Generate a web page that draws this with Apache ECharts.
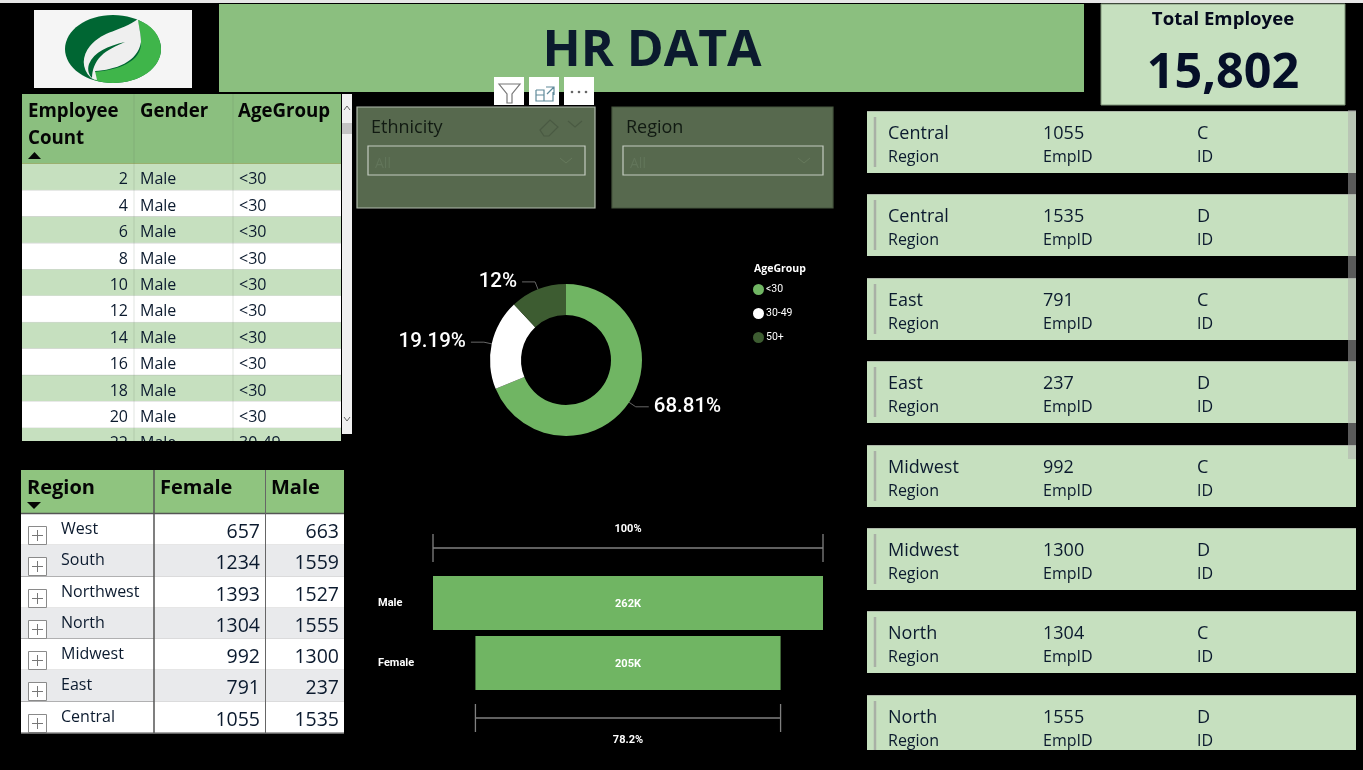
<!DOCTYPE html>
<html>
<head>
<meta charset="utf-8">
<title>HR DATA</title>
<script src="https://cdn.jsdelivr.net/npm/echarts@6/dist/echarts.min.js"></script>
<style>
  html, body { margin: 0; padding: 0; background: #000; overflow: hidden; }
  #chart { width: 1363px; height: 770px; }
</style>
</head>
<body>
<div id="chart"></div>
<script>
// employee table
var empCounts = [2, 4, 6, 8, 10, 12, 14, 16, 18, 20, 22];
var empGenders = ["Male", "Male", "Male", "Male", "Male", "Male", "Male", "Male", "Male", "Male", "Male"];
var empAgeGroups = ["<30", "<30", "<30", "<30", "<30", "<30", "<30", "<30", "<30", "<30", "30-49"];

// region matrix
var regionNames = ["West", "South", "Northwest", "North", "Midwest", "East", "Central"];
var regionFemale = [657, 1234, 1393, 1304, 992, 791, 1055];
var regionMale = [663, 1559, 1527, 1555, 1300, 237, 1535];

// multi row cards
var cardRegions = ["Central", "Central", "East", "East", "Midwest", "Midwest", "North", "North"];
var cardEmpIds = [1055, 1535, 791, 237, 992, 1300, 1304, 1555];
var cardIds = ["C", "D", "C", "D", "C", "D", "C", "D"];

// donut
var ageGroups = ["<30", "30-49", "50+"];
var ageShares = [68.81, 19.19, 12];
var ageColors = ["#70b563", "#ffffff", "#3d5c31"];

// funnel
var funnelNames = ["Male", "Female"];
var funnelValues = [262, 205];
var funnelPercents = ["100%", "78.2%"];

var totalEmployee = "15,802";

var UI_FONT = '"Open Sans"';
var CHART_FONT = 'Roboto';
var INK = "#0b1a2e";
var HEADER_GREEN = "#8bbf7f";
var LIGHT_GREEN = "#c6e0bf";
var SLICER_GREEN = "#57694e";

var gfx = [];
var pathCount = 0;

var rect = function (x, y, w, h, fill, stroke, lineWidth) {
  gfx.push({
    type: "rect", silent: true,
    shape: {x: x, y: y, width: w, height: h},
    style: {fill: fill, stroke: stroke || null, lineWidth: lineWidth || 0}
  });
};
var line = function (x1, y1, x2, y2, color, width) {
  gfx.push({
    type: "line", silent: true,
    shape: {x1: x1, y1: y1, x2: x2, y2: y2},
    style: {stroke: color, lineWidth: width || 1}
  });
};
var text = function (str, x, y, size, color, opts) {
  opts = opts || {};
  gfx.push({
    // open sans sits high in its line box, push it down a little
    type: "text", silent: true, x: x, y: y + size * 0.08 + 0.5,
    style: {
      text: String(str),
      fill: color,
      font: (opts.weight || "normal") + " " + size + "px " + (opts.family || UI_FONT),
      textAlign: opts.align || "left",
      textVerticalAlign: "middle"
    }
  });
};
// the graphic component has no plain path type, so each path is registered as a shape
var path = function (d, fill, stroke, lineWidth) {
  var name = "hrPath" + (pathCount++);
  echarts.graphic.registerShape(name, echarts.graphic.extendPath(d, {}));
  gfx.push({
    type: name, silent: true,
    style: {fill: fill || null, stroke: stroke || null, lineWidth: lineWidth || 0}
  });
};

// top strip, logo, banner, total card
var drawHeader = function () {
  rect(0, 0, 1363, 3, "#e6e6e6");

  rect(34, 10, 158, 78, "#f5f5f5");
  gfx.push({
    type: "ellipse", silent: true,
    shape: {cx: 113, cy: 49, rx: 48, ry: 34},
    style: {fill: "#006633"}
  });
  path("M138 20 C152 25 161 36 161 49 C161 68 140 83 113 83 C107 83 100 82 94 80 L94 72 C118 70 142 62 141 42 C141 34 139 28 138 20 Z", "#3fb54a");
  path("M138 19 C120 32 104 30 90 46 C82 56 81 68 91 78 C93 79 95 80 97 80 L95 71 C115 70 138 62 141 42 C141 34 139 28 138 19 Z", "#efefef");
  path("M125 42 C108 46 94 52 89 64 C87 70 89 75 92 78 C92 70 95 62 101 56 C107 50 116 46 125 42 Z", "#006633");

  rect(219, 4, 865, 88, HEADER_GREEN);
  text("HR DATA", 652, 47, 50, INK, {weight: "bold", align: "center"});

  rect(1101, 4, 244, 101, LIGHT_GREEN, "#7f9478", 1);
  text("Total Employee", 1223, 18, 18.6, "#050a1e", {weight: "bold", align: "center"});
  text(totalEmployee, 1223, 70, 48.5, "#050f28", {weight: "bold", align: "center"});
};

// filter, focus and more icons over the slicer
var drawToolbar = function () {
  rect(494, 77, 30, 28, "#ffffff");
  rect(529, 77, 30, 28, "#ffffff");
  rect(564, 77, 30, 28, "#ffffff");
  path("M499 84 L520 84 L512 94 L512 103 L507 103 L507 94 Z", null, "#777777", 1.2);
  path("M536 90 L536 101 L553 101 L553 92 M536 90 L544 90 L544 101 M536 95 L544 95 M546 87 L554 87 L554 95 M554 87 L547 94", null, "#5f8a9a", 1.2);
  [572, 579, 586].forEach(function (x) {
    gfx.push({
      type: "circle", silent: true,
      shape: {cx: x, cy: 92, r: 1.3},
      style: {fill: "#666666"}
    });
  });
};

var drawSlicer = function (title, x, w, boxW, selected) {
  rect(x, 107, w, 101, SLICER_GREEN, selected ? "#b2bcad" : "#46563e", 1.2);
  text(title, x + 14, 126, 18, "#111a12");
  rect(x + 11, 146, boxW, 29, null, "#c4ccc0", 1.2);
  text("All", x + 18, 162, 14, "#62755a");
  path("M" + (x + boxW - 14) + " 158 L" + (x + boxW - 8) + " 163 L" + (x + boxW - 2) + " 158", null, "#66795c", 1);
  if (selected) {
    path("M" + (x + 183) + " 130 L" + (x + 193) + " 120 L" + (x + 201) + " 127 L" + (x + 192) + " 136 L" + (x + 187) + " 136 Z", null, "#4a5a43", 1.2);
    path("M" + (x + 211) + " 121 L" + (x + 218) + " 127 L" + (x + 225) + " 121", null, "#4a5a43", 1.2);
  }
};

// employee table, upper left
var drawEmployeeTable = function () {
  var rowH = 26.4;
  var top = 164;
  rect(22, 94, 319, 70, HEADER_GREEN);
  line(22, 164, 341, 164, "#a8a060", 1);
  text("Employee", 28, 109.5, 18.7, "#050505", {weight: "bold"});
  text("Count", 28, 136.5, 18.7, "#050505", {weight: "bold"});
  path("M28 159 L41 159 L34.5 152 Z", "#050505");
  text("Gender", 140, 109.5, 18.7, "#050505", {weight: "bold"});
  text("AgeGroup", 238, 109.5, 18.7, "#050505", {weight: "bold"});

  empCounts.forEach(function (count, i) {
    var y = top + i * rowH;
    rect(22, y, 319, rowH, i % 2 === 0 ? LIGHT_GREEN : "#ffffff");
    line(22, y + rowH, 341, y + rowH, "#dcdedc", 1);
    text(count, 128, y + 14, 16, INK, {align: "right"});
    text(empGenders[i], 140, y + 14, 16, INK);
    text(empAgeGroups[i], 239, y + 14, 16, INK);
  });
  line(134, 94, 134, 441, "rgba(90,110,90,0.18)", 1);
  line(233, 94, 233, 441, "rgba(90,110,90,0.18)", 1);

  // the table is cut off below this row
  rect(0, 441, 352, 29, "#000000");

  rect(342, 94, 10, 340, "#f0f0f0");
  rect(342, 123, 10, 11, "#c4c4c4");
  path("M344 110 L347 106 L350 110", null, "#666666", 1);
  path("M344 417 L347 421 L350 417", null, "#666666", 1);
};

// region matrix, lower left
var drawRegionTable = function () {
  var rowTops = [514, 545, 577, 608, 639, 670, 702, 733];
  rect(21, 470, 323, 43, "#8fc47f");
  text("Region", 27, 486, 20, "#050505", {weight: "bold"});
  path("M27 502 L41 502 L34 509 Z", "#050505");
  text("Female", 160, 486, 20, "#050505", {weight: "bold"});
  text("Male", 271, 486, 20, "#050505", {weight: "bold"});

  regionNames.forEach(function (name, i) {
    var y = rowTops[i];
    var h = rowTops[i + 1] - y;
    rect(21, y, 323, h, i % 2 === 0 ? "#ffffff" : "#e9eaec");
    line(21, y + h, 154, y + h, i % 2 === 0 ? "#cccccc" : "#777777", 1);
    line(154, y + h, 344, y + h, "#cccccc", 1);
    text(name, 61, y + 13.5, 16, INK);
    text(regionFemale[i], 260, y + 16, 19.5, INK, {align: "right"});
    text(regionMale[i], 339, y + 16, 19.5, INK, {align: "right"});
    rect(28.5, y + 12.5, 18, 18, "#ffffff", "#8a8a8a", 1);
    line(32, y + 21.5, 43, y + 21.5, "#777777", 1);
    line(37.5, y + 16, 37.5, y + 27, "#777777", 1);
  });
  line(21, 513.5, 344, 513.5, "#555555", 1.5);
  line(154, 470, 154, 733, "#555555", 1.5);
  line(265.5, 470, 265.5, 733, "#666666", 1);
  line(21, 733, 344, 733, "#666666", 1);
};

// multi row cards, right side
var drawCards = function () {
  var cardH = 62;
  cardRegions.forEach(function (region, i) {
    var y = Math.round(111 + i * 83.4);
    var h = Math.min(cardH, 750 - y);
    rect(867, y, 489, h, LIGHT_GREEN);
    line(867, y + 0.5, 1356, y + 0.5, "#aeb8aa", 1);
    line(875, y + 6, 875, Math.min(y + 56, 750), "#a9b0a6", 2.5);
    text(region, 888, y + 21, 18, INK);
    text(cardEmpIds[i], 1043, y + 21, 18, INK);
    text(cardIds[i], 1197, y + 21, 18, INK);
    text("Region", 888, y + 45, 16, INK);
    text("EmpID", 1043, y + 45, 16, INK);
    text("ID", 1197, y + 45, 16, INK);
  });
  // last card is cut off by the visual's edge
  rect(860, 750, 503, 20, "#000000");
  rect(1348, 110, 8, 349, "rgba(173,173,173,0.52)");
};

drawHeader();
drawEmployeeTable();
drawRegionTable();
drawSlicer("Ethnicity", 357, 238, 217, true);
drawSlicer("Region", 612, 221, 200, false);
drawToolbar();
drawCards();

text("AgeGroup", 754, 268, 10.5, "#ffffff", {weight: "bold"});

var funnelMax = Math.max.apply(null, funnelValues);
var funnelOffsets = funnelValues.map(function (v) { return (funnelMax - v) / 2; });

var chart = echarts.init(document.getElementById("chart"));
chart.setOption({
  backgroundColor: "#000000",
  animation: false,
  graphic: {elements: gfx},
  legend: {
    orient: "vertical",
    left: 748,
    top: 279,
    icon: "circle",
    itemWidth: 11,
    itemHeight: 11,
    itemGap: 13,
    selectedMode: false,
    data: ageGroups,
    textStyle: {color: "#ffffff", fontFamily: CHART_FONT, fontSize: 10.5, padding: [0, 0, 0, -3]}
  },
  grid: {left: 433, top: 573, width: 390, height: 120},
  xAxis: {type: "value", min: 0, max: funnelMax, show: false},
  yAxis: {
    type: "category",
    inverse: true,
    data: funnelNames,
    axisLine: {show: false},
    axisTick: {show: false},
    axisLabel: {
      align: "left",
      margin: 55,
      padding: [2, 0, 0, 0],
      color: "#ffffff",
      fontFamily: CHART_FONT,
      fontWeight: "bold",
      fontSize: 11
    }
  },
  series: [
    {
      type: "pie",
      center: [566, 360],
      radius: [45, 76],
      startAngle: 90,
      clockwise: true,
      label: {
        color: "#ffffff",
        fontFamily: CHART_FONT,
        fontWeight: 500,
        fontSize: 20.5,
        formatter: function (p) { return p.value + "%"; }
      },
      labelLine: {length: 8, length2: 13, lineStyle: {color: "#666666", width: 1}},
      data: ageGroups.map(function (name, i) {
        return {name: name, value: ageShares[i], itemStyle: {color: ageColors[i]}};
      })
    },
    {
      type: "bar",
      stack: "funnel",
      barWidth: 54,
      silent: true,
      itemStyle: {color: "transparent"},
      data: funnelOffsets
    },
    {
      type: "bar",
      stack: "funnel",
      barWidth: 54,
      itemStyle: {color: "#70b563"},
      label: {
        show: true,
        position: "inside",
        offset: [0, 1],
        color: "#ffffff",
        fontFamily: CHART_FONT,
        fontWeight: "bold",
        fontSize: 11,
        formatter: function (p) { return p.value + "K"; }
      },
      data: funnelValues
    },
    {
      // width brackets above the first bar and below the last one
      type: "custom",
      silent: true,
      clip: false,
      encode: {x: 0, y: 1},
      data: funnelValues.map(function (v, i) { return [v, i]; }),
      renderItem: function (params, api) {
        var i = params.dataIndex;
        var left = api.coord([funnelOffsets[i], i]);
        var right = api.coord([funnelOffsets[i] + funnelValues[i], i]);
        var dir = i === 0 ? -1 : 1;
        var y = left[1] + dir * 55;
        var stroke = {stroke: "#808080", lineWidth: 1.3};
        return {
          type: "group",
          children: [
            {type: "line", shape: {x1: left[0], y1: y, x2: right[0], y2: y}, style: stroke},
            {type: "line", shape: {x1: left[0], y1: y - 14, x2: left[0], y2: y + 14}, style: stroke},
            {type: "line", shape: {x1: right[0], y1: y - 14, x2: right[0], y2: y + 14}, style: stroke},
            {
              type: "text",
              x: (left[0] + right[0]) / 2,
              y: left[1] + dir * 75.5 + 2,
              style: {
                text: funnelPercents[i],
                fill: "#ffffff",
                font: "bold 11px " + CHART_FONT,
                textAlign: "center",
                textVerticalAlign: "middle"
              }
            }
          ]
        };
      }
    }
  ]
});
</script>
</body>
</html>
